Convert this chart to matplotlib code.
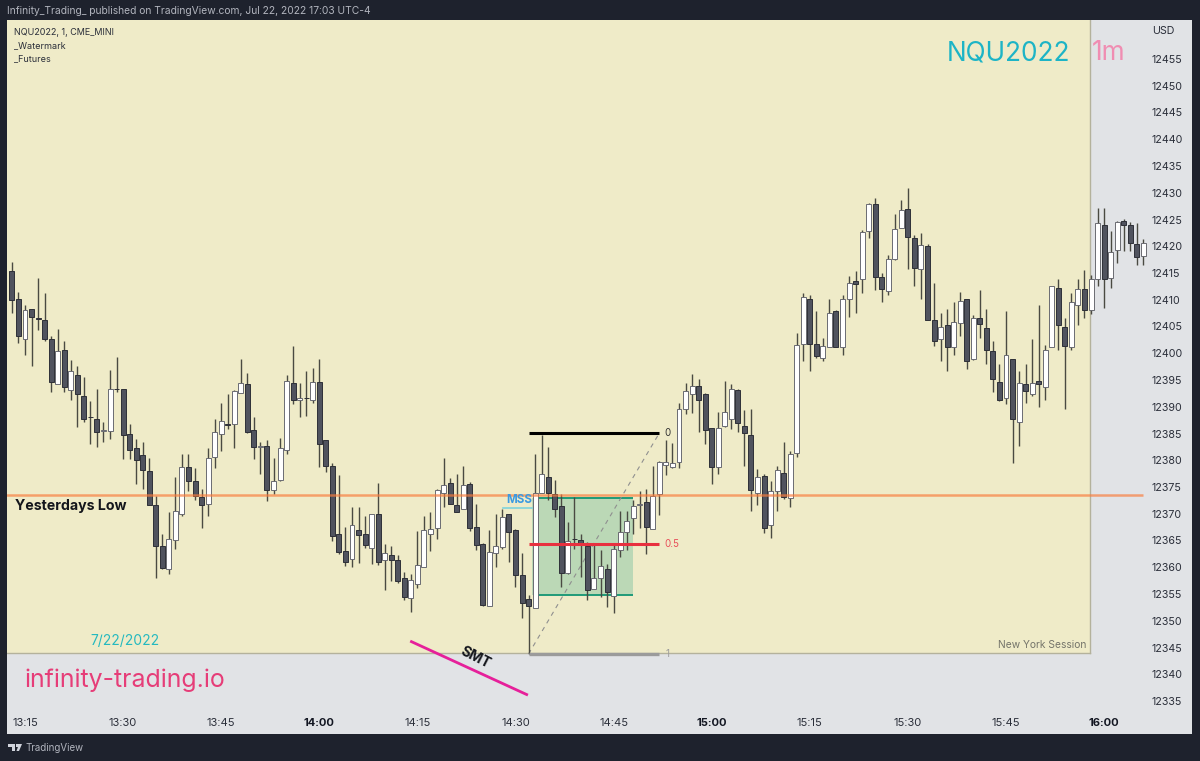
import matplotlib
matplotlib.use("Agg")
import matplotlib.pyplot as plt
from matplotlib.patches import Rectangle, Polygon
import numpy as np

# prices, one entry per 1 minute candle starting 13:13
highs = [12417.0,12411.5,12409.1,12408.2,12414.1,12411.2,12403.2,12404.6,12402.2,12398.7,
         12397.6,12395.6,12391.0,12393.3,12387.2,12396.8,12399.3,12393.4,12386.7,12384.0,
         12383.5,12380.5,12373.4,12366.3,12370.3,12376.8,12381.2,12381.2,12378.5,12374.7,
         12382.2,12387.8,12390.7,12392.3,12393.1,12399.0,12396.3,12388.0,12383.4,12383.7,
         12380.5,12384.2,12396.0,12401.3,12394.4,12396.6,12397.3,12399.0,12383.7,12379.5,
         12377.2,12367.6,12371.2,12371.2,12369.5,12370.0,12375.7,12364.4,12364.0,12362.2,
         12359.1,12358.7,12366.7,12369.6,12370.4,12374.6,12380.5,12376.7,12377.5,12378.9,
         12375.9,12371.9,12364.5,12366.9,12369.9,12370.9,12370.0,12367.2,12362.6,12354.9,
         12381.2,12384.8,12382.5,12376.4,12373.7,12368.4,12373.1,12366.3,12364.7,12364.1,
         12363.3,12360.6,12364.1,12370.5,12370.5,12372.5,12374.2,12374.7,12378.9,12379.9,
         12383.7,12383.2,12390.7,12394.4,12396.2,12395.1,12392.5,12386.1,12389.0,12394.9,
         12394.3,12393.4,12389.3,12389.6,12378.4,12377.5,12376.2,12378.9,12383.5,12381.7,
         12403.8,12411.2,12410.8,12407.9,12402.9,12410.1,12408.0,12410.8,12414.5,12415.3,
         12423.0,12428.0,12429.0,12415.0,12418.4,12426.0,12428.6,12430.8,12422.1,12422.4,
         12420.5,12413.2,12407.5,12408.2,12409.6,12411.5,12410.2,12407.2,12411.8,12408.2,
         12402.2,12398.0,12407.9,12399.0,12396.7,12398.0,12402.6,12409.1,12401.5,12412.5,
         12413.8,12406.5,12411.2,12413.9,12415.5,12414.7,12427.2,12427.2,12422.8,12424.7,
         12425.1,12424.6,12424.3,12421.3]
lows = [12407.5,12401.9,12399.7,12397.6,12404.3,12402.3,12392.7,12394.2,12392.7,12391.3,
        12386.2,12387.1,12383.0,12382.5,12383.5,12384.0,12392.8,12380.2,12380.2,12375.6,
        12374.6,12371.6,12358.0,12359.7,12358.7,12363.4,12369.6,12374.2,12372.5,12367.3,
        12369.6,12378.5,12381.7,12385.8,12382.3,12392.5,12385.1,12380.2,12377.5,12372.3,
        12373.7,12376.2,12381.2,12390.5,12388.0,12388.2,12390.7,12378.7,12377.8,12365.0,
        12362.5,12360.2,12360.0,12360.8,12363.6,12360.7,12360.4,12355.7,12357.4,12357.0,
        12353.9,12351.7,12356.2,12360.0,12363.0,12365.3,12371.3,12371.8,12370.3,12370.8,
        12366.8,12363.3,12352.7,12352.7,12360.1,12363.5,12361.0,12356.4,12350.5,12343.8,
        12352.4,12373.9,12372.5,12369.3,12356.4,12358.8,12363.5,12358.2,12353.8,12356.0,
        12354.4,12352.5,12351.5,12362.0,12363.3,12366.3,12367.4,12362.5,12367.1,12369.7,
        12377.2,12378.6,12378.5,12388.7,12388.8,12385.3,12383.1,12375.6,12377.5,12386.2,
        12385.8,12385.2,12378.9,12370.6,12371.6,12366.4,12365.5,12370.6,12372.8,12371.2,
        12380.7,12398.6,12396.6,12399.1,12398.6,12401.2,12401.1,12399.7,12406.8,12407.5,
        12411.3,12421.6,12411.8,12409.6,12410.9,12417.5,12423.5,12415.8,12412.5,12410.2,
        12406.2,12401.3,12398.5,12396.6,12399.7,12403.2,12397.1,12398.8,12402.9,12398.0,
        12392.7,12391.1,12390.6,12379.5,12382.7,12390.7,12392.1,12390.0,12391.3,12401.1,
        12400.6,12389.5,12400.7,12405.2,12406.6,12407.4,12412.5,12408.5,12412.2,12416.8,
        12419.1,12419.1,12416.5,12416.5]
body_tops = [12415.3,12410.2,12408.0,12408.2,12406.5,12406.2,12402.6,12400.5,12400.7,12396.6,
             12395.9,12392.0,12388.1,12387.7,12385.7,12393.3,12393.4,12393.4,12385.0,12382.2,
             12380.9,12377.9,12371.6,12363.9,12365.2,12370.5,12378.7,12378.7,12376.2,12373.2,
             12380.5,12385.2,12387.4,12386.7,12393.0,12394.4,12394.3,12385.7,12382.7,12382.7,
             12376.2,12382.2,12394.9,12394.4,12391.7,12391.7,12394.7,12394.7,12383.7,12378.9,
             12366.2,12363.0,12367.9,12366.9,12366.3,12369.9,12369.9,12362.6,12362.3,12361.4,
             12357.9,12357.7,12360.4,12366.9,12367.1,12374.4,12375.4,12375.7,12371.6,12375.4,
             12375.5,12367.6,12364.4,12362.9,12364.0,12369.4,12369.9,12366.9,12358.6,12354.1,
             12373.9,12377.5,12376.9,12373.6,12371.4,12364.9,12365.3,12365.1,12363.9,12358.0,
             12360.3,12359.7,12363.4,12366.6,12368.6,12371.4,12371.9,12372.2,12373.4,12379.7,
             12379.7,12379.4,12389.5,12393.0,12393.9,12393.9,12392.3,12386.1,12386.0,12389.0,
             12393.4,12393.2,12386.4,12384.7,12376.9,12377.1,12374.2,12378.1,12377.7,12381.2,
             12401.5,12410.5,12410.2,12401.8,12401.4,12407.5,12407.9,12410.2,12413.2,12413.5,
             12422.6,12427.9,12427.9,12414.2,12417.7,12423.3,12426.7,12427.0,12421.6,12420.3,
             12420.0,12406.2,12404.9,12405.2,12405.9,12409.8,12410.2,12406.5,12406.5,12404.8,
             12400.5,12394.7,12399.6,12398.9,12394.4,12394.2,12394.4,12394.9,12400.7,12412.5,
             12412.2,12404.9,12409.5,12412.0,12412.0,12413.8,12424.3,12424.0,12419.0,12424.6,
             12424.7,12424.0,12420.5,12420.7]
body_bots = [12410.0,12403.2,12402.7,12406.8,12406.4,12402.7,12394.6,12394.3,12393.7,12393.2,
             12392.3,12387.7,12388.0,12385.2,12385.4,12385.4,12393.3,12384.7,12382.0,12380.1,
             12378.1,12371.6,12364.0,12359.8,12359.7,12365.1,12369.9,12376.1,12373.4,12371.6,
             12371.9,12380.7,12385.0,12386.5,12386.7,12392.6,12385.3,12382.4,12382.4,12374.5,
             12374.4,12376.4,12382.0,12391.3,12391.3,12391.6,12391.3,12383.1,12378.9,12365.9,
             12362.8,12360.9,12361.6,12366.1,12364.1,12363.6,12361.0,12361.3,12361.3,12357.4,
             12354.4,12354.3,12356.9,12360.0,12366.3,12367.3,12373.9,12371.8,12370.4,12370.9,
             12367.3,12364.1,12353.0,12352.7,12362.6,12363.8,12366.6,12358.6,12353.4,12352.7,
             12352.4,12373.9,12373.9,12370.9,12358.9,12359.0,12365.2,12364.5,12355.7,12356.0,
             12357.9,12355.3,12354.7,12363.2,12366.6,12369.2,12371.6,12367.6,12367.2,12373.6,
             12379.2,12378.8,12379.7,12389.6,12392.4,12391.2,12385.7,12378.8,12378.7,12386.4,
             12387.7,12387.0,12385.1,12374.4,12373.9,12367.3,12367.9,12374.2,12373.1,12372.9,
             12381.4,12401.8,12401.8,12399.5,12399.2,12401.2,12401.2,12401.2,12410.2,12413.0,
             12413.8,12422.9,12414.2,12412.0,12411.7,12417.6,12423.5,12421.7,12416.0,12415.7,
             12406.2,12402.2,12402.7,12401.2,12401.2,12405.7,12398.6,12398.9,12405.5,12400.6,
             12395.2,12391.3,12391.6,12387.7,12387.1,12393.0,12392.3,12394.2,12393.6,12401.2,
             12405.2,12401.4,12401.2,12409.1,12408.0,12408.0,12413.8,12413.8,12414.1,12419.3,
             12423.9,12420.6,12418.0,12418.2]
direction = list("DDWDDDDWDW" "DDDDWWDDDD" "DDDDWWWDDD" "WWWDWWDDWD"
                 "WWWDWDWDDD" "DDWDDWDWDD" "DWWWWWWDDW" "DDDWWWDDDD"
                 "WWDDDWDDDW" "WDWWWWWDWW" "WWWWWDDDWW" "WDDDWDWWDW"
                 "WWDDWWDWWD" "WWDDWWWDDW" "DDWDWWDWDD" "DDWDWDWDWW"
                 "DDWWDWWDWW" "DDDW")

time_ticks = [795, 810, 825, 840, 855, 870, 885, 900, 915, 930, 945, 960]
time_labels = ["13:15", "13:30", "13:45", "14:00", "14:15", "14:30",
               "14:45", "15:00", "15:15", "15:30", "15:45", "16:00"]
price_ticks = list(range(12335, 12456, 5))

yesterdays_low = 12373.5
fib_levels = {"0": 12385.1, "0.5": 12364.3, "1": 12343.8}
box_top = 12373.0
box_bottom = 12354.8
mss_price = 12371.1

FIG_W, FIG_H = 1200, 761
BG = "#1e222d"
PANEL = "#e1e3e6"
YELLOW = "#efebc8"

plt.rcParams["font.family"] = ["Inter", "DejaVu Sans"]

times = 793 + np.arange(len(highs))
highs = np.array(highs)
lows = np.array(lows)
body_tops = np.array(body_tops)
body_bots = np.array(body_bots)
is_up = np.array([d == "W" for d in direction])

fig = plt.figure(figsize=(FIG_W / 100, FIG_H / 100), dpi=100, facecolor=BG)

# panel is x 7..1192 and y 20..734 in image pixels
ax = fig.add_axes([7 / FIG_W, 1 - 734 / FIG_H, 1185 / FIG_W, 714 / FIG_H])
ax.set_facecolor(PANEL)
px_per_min = 6.54
px_per_price = 5.35
ax.set_xlim(795 + (7 - 25) / px_per_min, 795 + (1192 - 25) / px_per_min)
ax.set_ylim(12455 - (734 - 59) / px_per_price, 12455 + (59 - 20) / px_per_price)
for s in ax.spines.values():
    s.set_visible(False)

# yellow session area
ax.add_patch(Rectangle((0, 81 / 714), 1083 / 1185, 633 / 714, transform=ax.transAxes,
                       facecolor=YELLOW, edgecolor="none", zorder=0))
ax.plot([1083 / 1185, 1083 / 1185], [81 / 714, 1], transform=ax.transAxes,
        color="#b4b29c", lw=1, zorder=1)
ax.plot([0, 1083 / 1185], [81 / 714, 81 / 714], transform=ax.transAxes,
        color="#b4b29c", lw=1, zorder=1)

# box + fib behind the candles
ax.add_patch(Rectangle((872.5, box_bottom), 15.5, box_top - box_bottom,
                       facecolor="#bbd8b6", edgecolor="none", zorder=1.5))
ax.hlines([box_top, box_bottom], 873, 888, color="#1f9a78", lw=1.4, zorder=1.6)
ax.plot([868.1, 872.5], [mss_price, mss_price], color="#7fd3dc", lw=1.2, zorder=1.6)
ax.plot([872.0, 892.0], [fib_levels["1"], fib_levels["0"]], color="#8f8f8f", lw=0.8,
        ls=(0, (4, 4)), zorder=1.7)

# candles
up_color = "#ffffff"
down_color = "#50535e"
ax.vlines(times, lows, highs, color="#4a4a42", lw=1.0, zorder=2)
ax.bar(times[is_up], (body_tops - body_bots)[is_up], bottom=body_bots[is_up], width=0.76,
       color=up_color, edgecolor="#6a6b72", lw=0.7, zorder=3)
ax.bar(times[~is_up], (body_tops - body_bots)[~is_up], bottom=body_bots[~is_up], width=0.76,
       color=down_color, edgecolor="#2e3038", lw=0.7, zorder=3)

# lines on top of the candles
ax.plot([793 - 3, 966], [yesterdays_low, yesterdays_low], color="#f97c3c", alpha=0.68, lw=1.8,
        solid_capstyle="butt", zorder=4)
ax.plot([872, 892], [fib_levels["0"]] * 2, color="#000000", lw=2.2, solid_capstyle="butt", zorder=5)
ax.plot([872, 892], [fib_levels["0.5"]] * 2, color="#e8303f", lw=2.2, solid_capstyle="butt", zorder=5)
ax.plot([872, 892], [fib_levels["1"]] * 2, color="#9b9b9b", lw=2.4, solid_capstyle="butt", zorder=5)
ax.text(892.7, fib_levels["0"], "0", fontsize=7, color="#333333", va="center", zorder=6)
ax.text(892.7, fib_levels["0.5"], "0.5", fontsize=7, color="#e8505a", va="center", zorder=6)
ax.text(892.9, fib_levels["1"], "1", fontsize=7, color="#9b9b9b", va="center", zorder=6)

# smt line runs off the yellow area
ax.plot([853.9, 871.9], [12346.2, 12336.1], color="#e6209a", lw=2, solid_capstyle="butt", zorder=6)
ax.text(863.8, 12343.1, "SMT", fontsize=10.2, fontweight="bold", color="#14161c",
        rotation=-27, ha="center", va="center", rotation_mode="anchor", zorder=6)
ax.text(870.5, 12372.6, "MSS", fontsize=8.3, fontweight="bold", color="#3b9ae1",
        ha="center", va="center", zorder=6)

# axis labels sit inside the panel
ax.set_xticks(time_ticks)
ax.set_xticklabels(time_labels)
ax.set_yticks(price_ticks)
ax.yaxis.tick_right()
ax.tick_params(axis="x", length=0, pad=-11.5, labelsize=8, labelcolor="#2a2e39")
ax.tick_params(axis="y", length=0, pad=-29, labelsize=7.7, labelcolor="#2a2e39")
for lab in ax.get_yticklabels():
    lab.set_ha("left")
for lab in ax.get_xticklabels():
    if lab.get_text().endswith(":00"):
        lab.set_fontweight("bold")
        lab.set_color("#131722")


def px(x, y):
    return x / FIG_W, 1 - y / FIG_H


def put(x, y, s, **kw):
    kw.setdefault("va", "center")
    fig.text(*px(x, y), s, zorder=10, **kw)


put(1152, 31, "USD", fontsize=7.7, color="#2a2e39")
put(7, 11, "Infinity_Trading_ published on TradingView.com, Jul 22, 2022 17:03 UTC-4",
    fontsize=7.4, color="#b2b5be")
put(14, 32.5, "NQU2022, 1, CME_MINI", fontsize=6.5, color="#2a2e39")
put(14, 45.5, "_Watermark", fontsize=6.5, color="#2a2e39")
put(14, 58.5, "_Futures", fontsize=6.5, color="#2a2e39")
put(947, 53, "NQU2022", fontsize=18.9, color="#1db4c6")
put(1092, 53, "1m", fontsize=18.9, color="#f08db2")
put(15, 506, "Yesterdays Low", fontsize=10.2, fontweight="bold", color="#14161c")
put(90, 641, "7/22/2022", fontsize=10, color="#25b9bf")
put(1086, 645, "New York Session", fontsize=7.4, color="#74746a", ha="right")
put(24, 680, "infinity-trading.io", fontsize=17.9, color="#e63d78")
put(25, 748, "TradingView", fontsize=7, color="#b2b5be")

# small logo in the footer
logo = [
    Polygon([px(8, 744), px(15, 744), px(15, 751), px(12, 751), px(12, 746.5), px(8, 746.5)]),
    Polygon([px(16, 744), px(18.5, 744), px(18.5, 747), px(16, 747)]),
    Polygon([px(19, 744), px(22, 744), px(19, 751), px(16.5, 751)]),
]
for p in logo:
    p.set_transform(fig.transFigure)
    p.set_facecolor("#d1d4dc")
    p.set_edgecolor("none")
    fig.add_artist(p)

fig.savefig("out.png", dpi=100, facecolor=BG)
